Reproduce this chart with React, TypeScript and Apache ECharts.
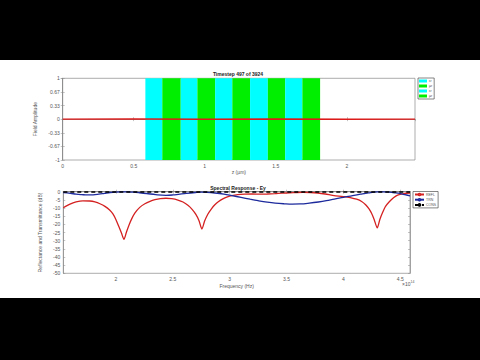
import React, { useEffect, useRef } from "react";
import * as echarts from "echarts";

// ---- Top plot data ----
const zRange = [0, 2.48];
const fieldZ = [0, 0.5, 1, 1.5, 2, 2.48];
const fieldEy = [0, 0.002, -0.003, 0.002, -0.001, 0];
const layerEdges = [0.582, 0.701, 0.831, 0.948, 1.073, 1.194, 1.319, 1.444, 1.566, 1.687, 1.812];
const layerColors = ["#00ffff", "#00ee00", "#00ffff", "#00ee00", "#00ffff", "#00ee00", "#00ffff", "#00ee00", "#00ffff", "#00ee00"];
const topLegend = ["εr", "μr", "εr", "μr"];
const topLegendColors = ["#00ffff", "#00ee00", "#00ffff", "#00ee00"];

// ---- Bottom plot data (frequency in 1e14 Hz) ----
const freqTicks = [2, 2.5, 3, 3.5, 4, 4.5];
const reflF = [1.538, 1.597, 1.65, 1.71, 1.77, 1.816, 1.86, 1.904, 1.945, 1.974, 2.0, 2.027, 2.05, 2.071, 2.092, 2.115, 2.14, 2.168, 2.21, 2.255, 2.3, 2.343, 2.39, 2.44, 2.49, 2.545, 2.59, 2.633, 2.67, 2.703, 2.73, 2.756, 2.78, 2.808, 2.84, 2.87, 2.9, 2.94, 2.98, 3.019, 3.07, 3.133, 3.2, 3.265, 3.33, 3.396, 3.46, 3.528, 3.59, 3.642, 3.71, 3.773, 3.84, 3.905, 3.96, 4.01, 4.06, 4.116, 4.16, 4.195, 4.225, 4.247, 4.27, 4.297, 4.32, 4.344, 4.37, 4.405, 4.44, 4.476, 4.53, 4.585];
const reflDb = [-9.8, -7.6, -6.3, -5.6, -5.7, -6.3, -7.4, -9.0, -11.2, -13.6, -17.0, -21.5, -25.5, -29.2, -25.0, -20.5, -16.5, -13.0, -9.6, -7.4, -5.9, -4.9, -4.2, -4.0, -4.3, -5.1, -6.3, -8.3, -10.8, -13.9, -17.6, -22.9, -18.0, -13.8, -10.5, -8.0, -6.2, -4.4, -3.2, -2.4, -1.8, -1.5, -1.4, -1.5, -1.4, -1.2, -0.9, -0.7, -0.5, -0.4, -0.5, -0.8, -1.4, -2.2, -2.7, -3.0, -3.6, -4.6, -6.0, -8.0, -10.5, -13.2, -17.0, -22.2, -17.0, -12.8, -9.0, -6.0, -3.7, -2.1, -1.2, -0.8];
const trnF = [1.538, 1.6, 1.65, 1.7, 1.75, 1.8, 1.85, 1.9, 1.95, 2.0, 2.05, 2.1, 2.15, 2.2, 2.27, 2.35, 2.44, 2.5, 2.55, 2.62, 2.7, 2.75, 2.8, 2.87, 2.95, 3.02, 3.1, 3.18, 3.25, 3.33, 3.4, 3.48, 3.55, 3.62, 3.7, 3.78, 3.85, 3.92, 4.0, 4.08, 4.15, 4.22, 4.3, 4.35, 4.4, 4.45, 4.5, 4.54, 4.585];
const trnDb = [-0.6, -1.0, -1.5, -1.8, -2.0, -1.9, -1.5, -1.0, -0.5, -0.2, -0.1, -0.1, -0.3, -0.6, -1.1, -1.8, -2.2, -2.0, -1.6, -1.0, -0.5, -0.3, -0.4, -0.8, -1.5, -2.4, -3.5, -4.6, -5.5, -6.4, -7.0, -7.4, -7.6, -7.5, -7.0, -6.3, -5.5, -4.5, -3.5, -2.4, -1.5, -0.7, -0.1, -0.05, -0.3, -0.7, -1.2, -1.8, -2.5];
const consF = [1.538, 2.0, 2.5, 3.0, 3.5, 4.0, 4.585];
const consDb = [-0.2, -0.2, -0.2, -0.2, -0.2, -0.2, -0.2];
const bottomLegend = ["REFL", "TRN", "CONS"];

const AX = "#8a8a8a";
const TXT = "#555";
const FS = 5;

export default function App() {
  const ref = useRef<HTMLDivElement>(null);
  useEffect(() => {
    const chart = echarts.init(ref.current!, null, { renderer: "svg" });
    const bands = layerColors.map((c, i) => [
      { xAxis: layerEdges[i], itemStyle: { color: c, borderWidth: 0 } },
      { xAxis: layerEdges[i + 1] },
    ]);
    const zip = (a: number[], b: number[]) => a.map((v, i) => [v, b[i]]);
    const axisCommon = {
      axisLine: { lineStyle: { color: AX, width: 0.7 } },
      axisTick: { inside: true, length: 2, lineStyle: { color: AX, width: 0.5 } },
      axisLabel: { fontSize: FS, color: TXT, margin: 3, fontFamily: "Liberation Sans" },
      splitLine: { show: false },
      nameTextStyle: { fontSize: FS, color: TXT, fontFamily: "Liberation Sans" },
    };
    chart.setOption({
      animation: false,
      backgroundColor: "#ffffff",
      graphic: [
        { type: "rect", shape: { x: 0, y: 0, width: 480, height: 60 }, style: { fill: "#000" } },
        { type: "rect", shape: { x: 0, y: 298, width: 480, height: 62 }, style: { fill: "#000" } },
        {
          type: "text", x: 402, y: 280,
          style: {
            text: "{a|×10}{b|14}", fill: TXT,
            rich: { a: { fontSize: FS, fill: TXT }, b: { fontSize: 3.5, fill: TXT, verticalAlign: "top", padding: [0, 0, 3, 0] } },
          },
        },
      ],
      title: [
        { text: "Timestep 497 of 3924", left: 238, top: 71.5, padding: 0, textAlign: "center", textStyle: { fontSize: 5, fontWeight: "bold", color: "#222", fontFamily: "Liberation Sans" } },
        { text: "Spectral Response - Ey", left: 238, top: 185, padding: 0, textAlign: "center", textStyle: { fontSize: 5, fontWeight: "bold", color: "#222", fontFamily: "Liberation Sans" } },
      ],
      legend: [
        {
          data: topLegend.map((n, i) => ({ name: n + "\u200b".repeat(i), icon: "rect" })),
          orient: "vertical", left: 418, top: 78, itemWidth: 8, itemHeight: 3, itemGap: 1,
          padding: [1, 2, 1, 1], borderColor: "#333", borderWidth: 0.6, backgroundColor: "#fff",
          textStyle: { fontSize: 3.5, color: TXT, padding: [0, 0, 0, -3] },
        },
        {
          data: bottomLegend,
          orient: "vertical", left: 413, top: 191.5, itemWidth: 9, itemHeight: 2, itemGap: 1.2,
          padding: [1, 2, 1, 1], borderColor: "#333", borderWidth: 0.6, backgroundColor: "#fff",
          textStyle: { fontSize: 3.5, color: TXT, padding: [0, 0, 0, -3] },
        },
      ],
      grid: [
        { left: 62.7, top: 78.3, width: 352.3, height: 81.7, show: true, borderColor: AX, borderWidth: 0.7, backgroundColor: "transparent" },
        { left: 63.3, top: 191.7, width: 346.7, height: 81.6, show: true, borderColor: AX, borderWidth: 0.7, backgroundColor: "transparent" },
      ],
      xAxis: [
        {
          ...axisCommon, type: "value", gridIndex: 0, min: zRange[0], max: zRange[1], interval: 0.5,
          axisLabel: { ...axisCommon.axisLabel, showMaxLabel: false },
          name: "z (µm)", nameLocation: "middle", nameGap: 9,
        },
        { ...axisCommon, type: "value", gridIndex: 0, position: "top", min: zRange[0], max: zRange[1], interval: 0.5, axisLabel: { show: false } },
        {
          ...axisCommon, type: "value", gridIndex: 1, min: reflF[0], max: reflF[reflF.length - 1],
          axisLabel: { ...axisCommon.axisLabel, customValues: freqTicks },
          axisTick: { ...axisCommon.axisTick, customValues: freqTicks },
          name: "Frequency (Hz)", nameLocation: "middle", nameGap: 10,
        },
        {
          ...axisCommon, type: "value", gridIndex: 1, position: "top", min: reflF[0], max: reflF[reflF.length - 1],
          axisLabel: { show: false },
          axisTick: { ...axisCommon.axisTick, customValues: freqTicks },
        },
      ],
      yAxis: [
        {
          ...axisCommon, type: "value", gridIndex: 0, min: -1, max: 1, interval: 1 / 3,
          axisLabel: { ...axisCommon.axisLabel, formatter: (v: number) => (Math.abs(v) < 1e-9 ? "0" : String(parseFloat(v.toFixed(2)))) },
          name: "Field Amplitude", nameLocation: "middle", nameGap: 14,
        },
        { ...axisCommon, type: "value", gridIndex: 0, position: "right", min: -1, max: 1, interval: 1 / 3, axisLabel: { show: false } },
        { ...axisCommon, type: "value", gridIndex: 1, min: -50, max: 0, interval: 5, name: "Reflectance and Transmittance (dB)", nameLocation: "middle", nameGap: 14 },
        { ...axisCommon, type: "value", gridIndex: 1, position: "right", min: -50, max: 0, interval: 5, axisLabel: { show: false } },
      ],
      series: [
        ...topLegend.map((n, i) => ({
          name: n + "\u200b".repeat(i), type: "line", xAxisIndex: 0, yAxisIndex: 0, data: [],
          itemStyle: { color: topLegendColors[i] }, lineStyle: { color: topLegendColors[i] },
        })),
        {
          name: "Ey", type: "line", xAxisIndex: 0, yAxisIndex: 0, data: zip(fieldZ, fieldEy), showSymbol: false,
          lineStyle: { color: "#dd1a1a", width: 1.4 }, z: 5,
          markArea: { silent: true, data: bands },
        },
        {
          name: "REFL", type: "line", xAxisIndex: 2, yAxisIndex: 2, data: zip(reflF, reflDb), showSymbol: false, smooth: 0.25,
          lineStyle: { color: "#d42020", width: 1.3 }, itemStyle: { color: "#d42020" },
        },
        {
          name: "TRN", type: "line", xAxisIndex: 2, yAxisIndex: 2, data: zip(trnF, trnDb), showSymbol: false, smooth: 0.4,
          lineStyle: { color: "#1c2a9c", width: 1.3 }, itemStyle: { color: "#1c2a9c" },
        },
        {
          name: "CONS", type: "line", xAxisIndex: 2, yAxisIndex: 2, data: zip(consF, consDb), showSymbol: false,
          lineStyle: { color: "#000", width: 1.4, type: [4, 3] }, itemStyle: { color: "#000" },
        },
      ],
    });
    return () => chart.dispose();
  }, []);
  return (
    <div style={{ position: "fixed", left: 0, top: 0, width: 480, height: 360 }}>
      <div ref={ref} style={{ width: 480, height: 360 }} />
    </div>
  );
}
